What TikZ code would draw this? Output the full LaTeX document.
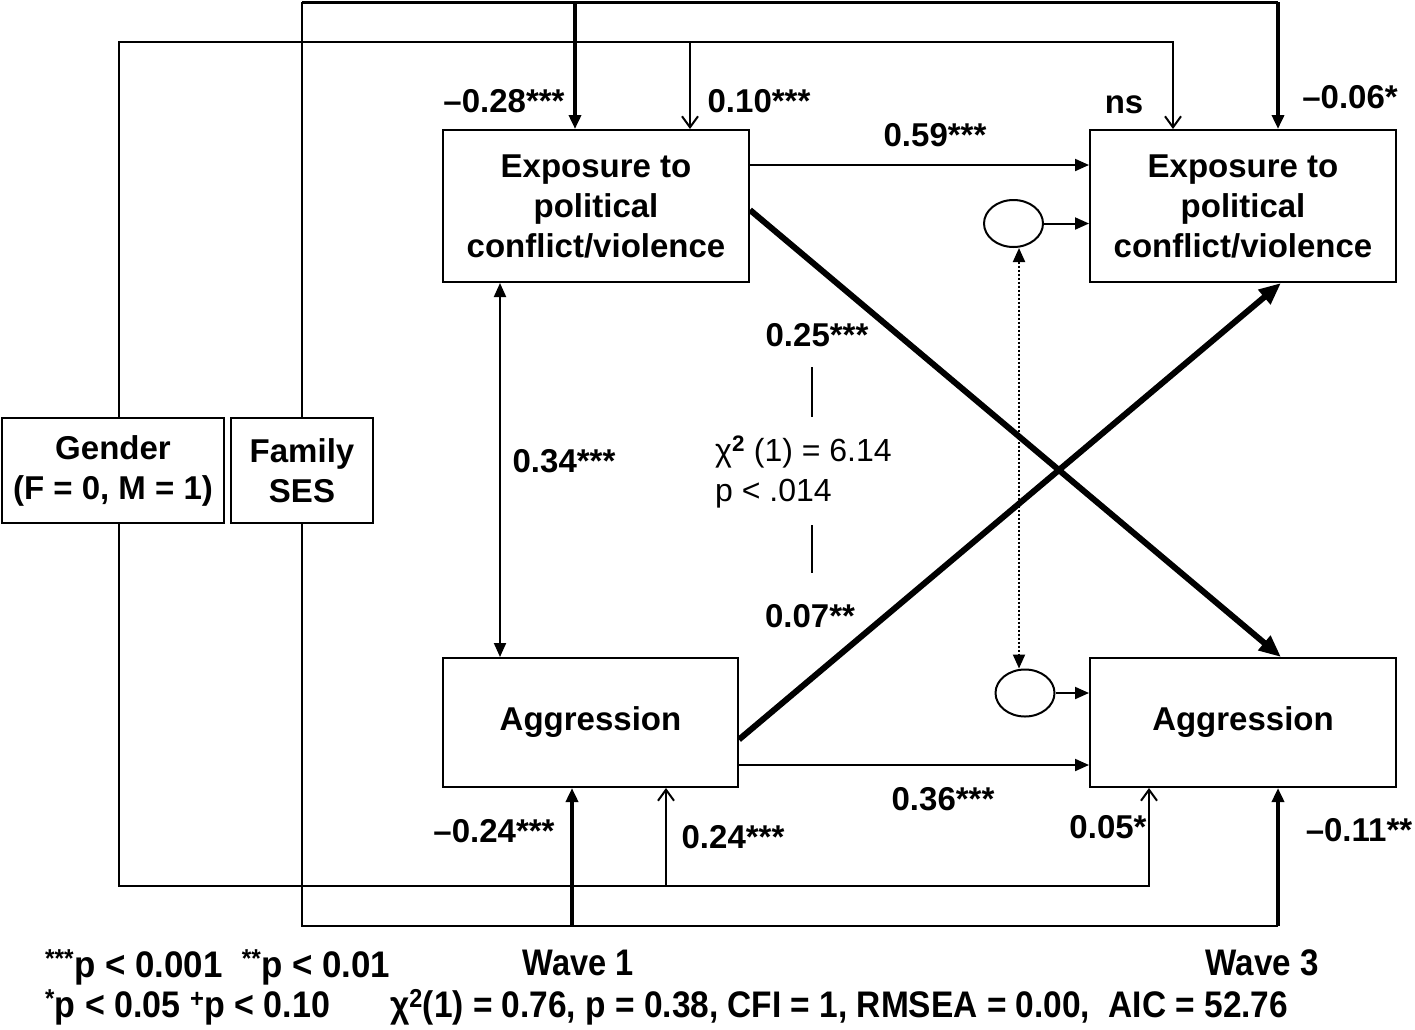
\documentclass[tikz,border=0pt]{standalone}
\usepackage{fontspec}
\setmainfont{Liberation Sans}
\usetikzlibrary{arrows.meta,shapes.geometric,calc}
\newcommand\myb{\fontsize{33}{40}\selectfont\bfseries}
\newcommand\myr{\fontsize{32}{40}\selectfont}
\newcommand\myf{\fontsize{37}{40}\selectfont\bfseries}
\begin{document}
\begin{tikzpicture}[x=1pt,y=-1pt,
  box/.style={draw, line width=2pt, align=center, font=\myb, inner sep=0pt},
  lbl/.style={font=\myb, inner sep=0pt, anchor=base},
  wire/.style={line width=2pt},
  medw/.style={line width=3.5pt},
  heavy/.style={line width=6pt},
  fa/.style={-{Triangle[length=14pt,width=12pt]}},
  oa/.style={-{Straight Barb[length=11pt,width=16pt]}},
  ba/.style={-{Triangle[length=22pt,width=18pt]}},
  circ/.style={draw, ellipse, line width=2pt, minimum width=59pt, minimum height=47pt, inner sep=0pt}]
\useasboundingbox[fill=white] (0,0) rectangle (1415,1029);

% boxes
\node[box, minimum width=306pt, minimum height=152pt] (E1) at (596,206) {Exposure to\\political\\conflict/violence};
\node[box, minimum width=306pt, minimum height=152pt] (E3) at (1243,206) {Exposure to\\political\\conflict/violence};
\node[box, minimum width=295pt, minimum height=129pt] (A1) at (590.5,722.5) {Aggression};
\node[box, minimum width=306pt, minimum height=129pt] (A3) at (1243,722.5) {Aggression};
\node[box, minimum width=222pt, minimum height=105pt] (G) at (113,470.5) {Gender\\(F = 0, M = 1)};
\node[box, minimum width=142pt, minimum height=105pt] (S) at (302,470.5) {Family\\SES};
\node[circ] (U1) at (1013.5,223.5) {};
\node[circ] (U2) at (1025,693) {};

% lane coordinates
\coordinate (gx) at (119,0);
\coordinate (r1) at (0,2);
\coordinate (r2) at (0,42);
\coordinate (r3) at (0,886);
\coordinate (r4) at (0,926);
\coordinate (e1a) at ([xshift=-21pt]E1.north);
\coordinate (e1b) at ([xshift=94pt]E1.north);
\coordinate (e3a) at ([xshift=-70pt]E3.north);
\coordinate (e3b) at ([xshift=35pt]E3.north);
\coordinate (a1a) at ([xshift=-18.5pt]A1.south);
\coordinate (a1b) at ([xshift=75.5pt]A1.south);
\coordinate (a3a) at ([xshift=-94pt]A3.south);
\coordinate (a3b) at ([xshift=35pt]A3.south);

% gender paths
\draw[wire, oa] (gx |- G.north) -- (gx |- r2) -| (e3a);
\draw[wire, oa] (e1b |- r2) -- (e1b);
\draw[wire, oa] (gx |- G.south) -- (gx |- r3) -| (a3a);
\draw[wire, oa] (a1b |- r3) -- (a1b);

% SES paths
\draw[wire] (S.north) -- (S.north |- r1);
\draw[line width=3pt] (S.north |- r1) -- (e3b |- r1);
\draw[medw, fa] (e3b |- r1) -- (e3b);
\draw[medw, fa] (e1a |- r1) -- (e1a);
\draw[wire] (S.south) -- (S.south |- r4) -- (a3b |- r4);
\draw[medw, fa] (a3b |- r4) -- (a3b);
\draw[medw, fa] (a1a |- r4) -- (a1a);

% stability paths
\coordinate (h1) at ([yshift=41pt]E1.east);
\draw[wire, fa] (h1) -- (h1 -| E3.west);
\coordinate (h2) at ([yshift=-42.5pt]A1.east);
\draw[wire, fa] (h2) -- (h2 -| A3.west);

% cross-lagged
\coordinate (d1s) at ([yshift=-4pt]E1.east);
\coordinate (d1e) at ([xshift=38pt]A3.north);
\draw[heavy, ba] (d1s) -- (d1e);
\coordinate (d2s) at ([yshift=-17pt]A1.east);
\coordinate (d2e) at ([xshift=38pt]E3.south);
\draw[heavy, ba] (d2s) -- (d2e);

% correlation
\coordinate (c1) at ([xshift=-96pt]E1.south);
\draw[wire, {Triangle[length=14pt,width=12pt]}-{Triangle[length=14pt,width=12pt]}] (c1) -- (c1 |- A1.north);

% residuals
\draw[wire, fa] (U1.east) -- (U1.east -| E3.west);
\draw[wire, fa] (U2.east) -- (U2.east -| A3.west);
\coordinate (dx) at (1019,0);
\draw[wire, dash pattern=on 2pt off 2pt, {Triangle[length=14pt,width=12pt]}-{Triangle[length=14pt,width=12pt]}] (dx |- U1.south) -- (dx |- U2.north);

% labels
\node[lbl] (l1) at (504,112) {–0.28***};
\node[lbl] (l2) at (759,112) {0.10***};
\node[lbl] (l3) at (1124,113) {ns};
\node[lbl] (l4) at (1350,108) {–0.06*};
\node[lbl] (l5) at (935,146) {0.59***};
\node[lbl] (l6) at (564,472) {0.34***};
\node[lbl] (l7) at (943,810) {0.36***};
\node[lbl] (l8) at (494,842) {–0.24***};
\node[lbl] (l9) at (733,848) {0.24***};
\node[lbl] (l10) at (1108,838) {0.05*};
\node[lbl] (l11) at (1359,841) {–0.11**};

% comparison
\node[lbl] (k1) at (817,346) {0.25***};
\node[lbl] (k2) at (810,627) {0.07**};
\node[font=\myr, inner sep=0pt, anchor=base west] (chi) at (715,461) {χ\textsuperscript{\textbf{2}} (1) = 6.14};
\node[font=\myr, inner sep=0pt, anchor=base west] (pp) at (715,501) {p < .014};
\coordinate (v1) at (812,0);
\draw[line width=1.5pt] (v1 |- 0,367) -- (v1 |- 0,417);
\draw[line width=1.5pt] (v1 |- 0,525) -- (v1 |- 0,573);

% footer
\node[inner sep=0pt, anchor=base] (w1) at (578,975) {\resizebox{111pt}{\height}{\myf Wave 1}};
\node[inner sep=0pt, anchor=base] (w3) at (1262,975) {\resizebox{113pt}{\height}{\myf Wave 3}};
\node[inner sep=0pt, anchor=base west] (f1) at (45,977) {\resizebox{345pt}{\height}{\myf \textsuperscript{***}p < 0.001\ \ \textsuperscript{**}p < 0.01}};
\node[inner sep=0pt, anchor=base west] (f2) at (45,1017) {\resizebox{285pt}{\height}{\myf \textsuperscript{*}p < 0.05 \textsuperscript{+}p < 0.10}};
\node[inner sep=0pt, anchor=base west] (f3) at (390,1017) {\resizebox{898pt}{\height}{\myf χ\textsuperscript{2}(1) = 0.76, p = 0.38, CFI = 1, RMSEA = 0.00,\ \ AIC = 52.76}};
\end{tikzpicture}
\end{document}
